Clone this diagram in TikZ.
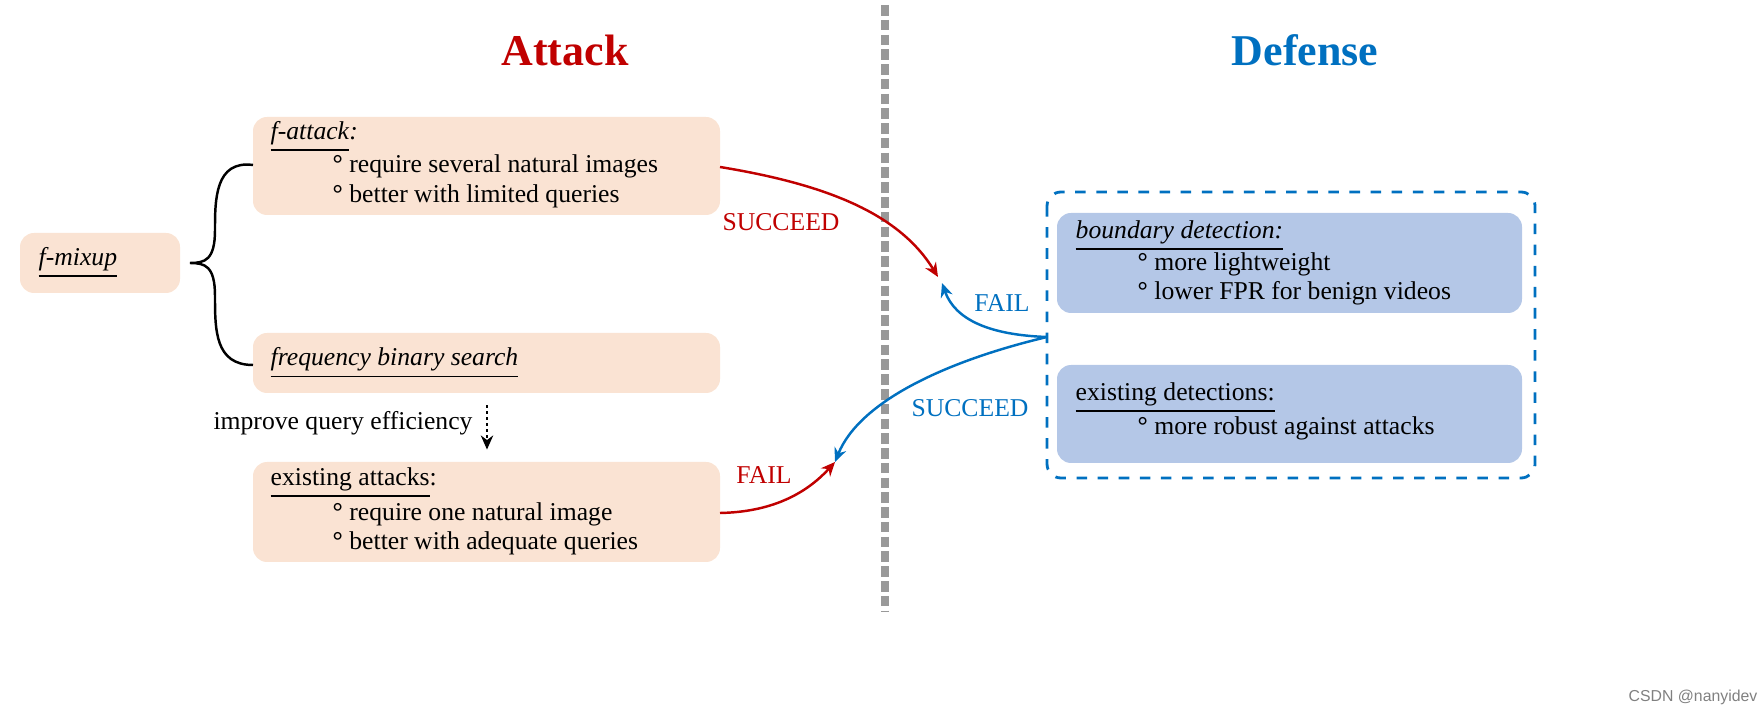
\documentclass[tikz,border=0pt]{standalone}
\usepackage{fontspec}
\setmainfont{Liberation Serif}
\newfontfamily\sansf{Liberation Sans}
\usetikzlibrary{arrows.meta}
\definecolor{peach}{HTML}{FAE3D3}
\definecolor{lblue}{HTML}{B4C7E7}
\definecolor{atk}{HTML}{C00000}
\definecolor{dfn}{HTML}{0070C0}
\newcommand{\bul}{\textbf{°}\ }
\begin{document}
\begin{tikzpicture}[x=0.01cm,y=-0.01cm,
  box/.style={fill=#1,draw=none,rounded corners=0.14cm},
  txt/.style={anchor=west,inner sep=0pt,font=\fontsize{7.3pt}{8pt}\selectfont},
  lab/.style={inner sep=0pt,font=\fontsize{7.3pt}{8pt}\selectfont},
  arr/.style={line width=0.7pt,-{Stealth[length=4pt,width=3.5pt]}}]
\useasboundingbox (0,0) rectangle (1758,707);
\draw[gray!80,line width=2.5pt,dash pattern=on 3pt off 1.2pt] (885,5) -- (885,612);
\node[font=\bfseries\fontsize{12.5pt}{13pt}\selectfont,text=atk] (ta) at (565,50) {Attack};
\node[font=\bfseries\fontsize{12.5pt}{13pt}\selectfont,text=dfn] (td) at (1305,50) {Defense};
% left boxes
\draw[box=peach] (20,233) rectangle (180,293); \node (mix) at (100,263) {};
\node[txt] at (38,263) {\underline{\textit{f-mixup}}};
\draw[box=peach] (253,117) rectangle (720,215); \node (fa) at (720,167) {};
\node[txt] at (270,137) {\underline{\textit{f-attack}}\textit{:}};
\node[txt] at (332,166) {\bul require several natural images};
\node[txt] at (332,196) {\bul better with limited queries};
\draw[box=peach] (253,333) rectangle (720,393); \node (fb) at (487,393) {};
\node[txt] at (270,363) {\underline{\textit{frequency binary search}}};
\draw[box=peach] (253,462) rectangle (720,562); \node (ea) at (487,462) {};
\node[txt] at (270,483) {\underline{existing attacks}:};
\node[txt] at (332,514) {\bul require one natural image};
\node[txt] at (332,543) {\bul better with adequate queries};
\coordinate (ea2) at (720,513);
% brace
\draw[line width=0.7pt] (253,165) .. controls (215,160) and (215,200) .. (215,230) .. controls (215,260) and (205,263) .. (190,263)
  .. controls (205,263) and (215,266) .. (215,296) .. controls (215,330) and (215,365) .. (253,365);
\draw[densely dotted,line width=0.7pt,-{Stealth[length=4pt,width=3.5pt]}] (fb) -- (ea);
\node[lab] at (343,423) {improve query efficiency};
% right
\draw[dfn,dashed,line width=0.8pt,rounded corners=0.14cm] (1047,192) rectangle (1535,478);
\draw[box=lblue] (1057,213) rectangle (1522,313);
\node[txt] at (1075,236) {\underline{\textit{boundary detection:}}};
\node[txt] at (1137,264) {\bul more lightweight};
\node[txt] at (1137,293) {\bul lower FPR for benign videos};
\draw[box=lblue] (1057,365) rectangle (1522,463);
\node[txt] at (1075,398) {\underline{existing detections:}};
\node[txt] at (1137,428) {\bul more robust against attacks};
\coordinate (src) at (1047,337);
\coordinate (t1) at (938,277);
\coordinate (t2) at (835,462);
% arrows
\draw[arr,atk] (720,167) .. controls (830,185) and (900,215) .. (t1);
\node[lab,text=atk] at (781,222) {SUCCEED};
\draw[arr,atk] (ea2) .. controls (770,512) and (805,495) .. (t2);
\node[lab,text=atk] at (764,475) {FAIL};
\draw[arr,dfn] (src) .. controls (990,335) and (955,320) .. (942,283);
\node[lab,text=dfn] at (1002,303) {FAIL};
\draw[arr,dfn] (src) .. controls (950,360) and (860,400) .. (t2);
\node[lab,text=dfn] at (970,408) {SUCCEED};
\node[font=\sansf\fontsize{4.5pt}{5pt}\selectfont,text=gray] at (1693,697) {CSDN @nanyidev};
\end{tikzpicture}
\end{document}
